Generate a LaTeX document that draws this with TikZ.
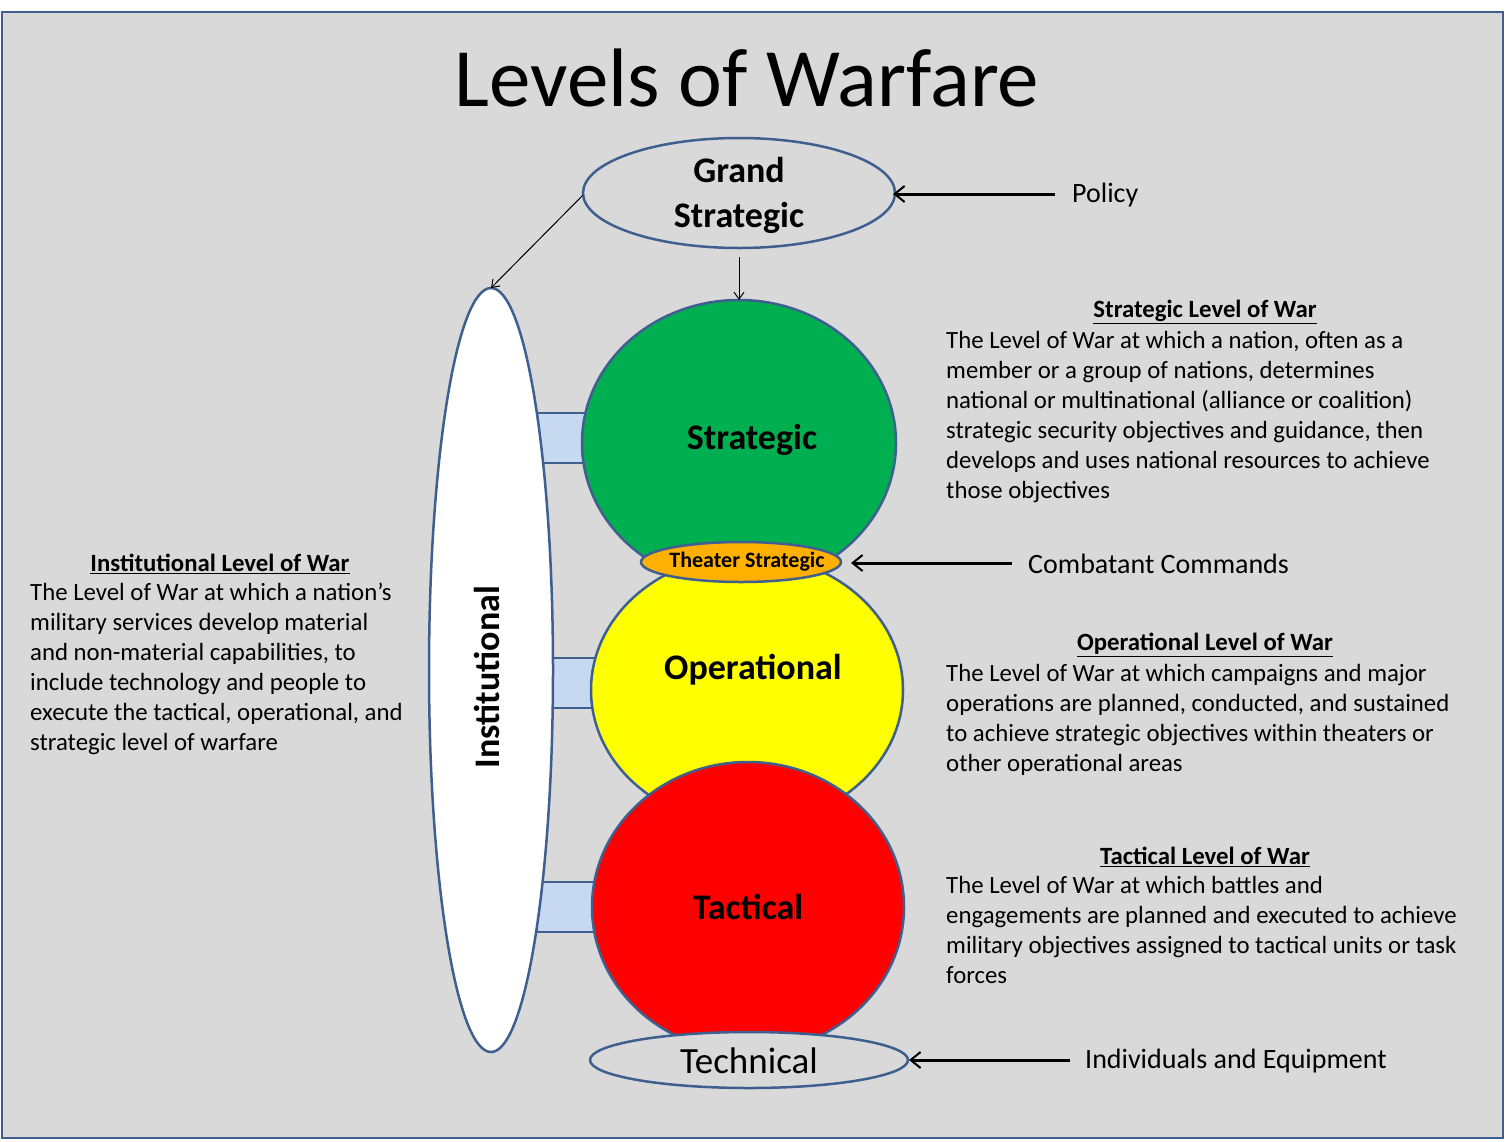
\documentclass[tikz,border=0pt]{standalone}
\usepackage{fontspec}
\setmainfont{Carlito}
\usetikzlibrary{arrows.meta}
\definecolor{bg}{HTML}{D9D9D9}
\definecolor{bd}{HTML}{3F5F8F}
\definecolor{lb}{HTML}{C6D9F1}
\definecolor{gr}{HTML}{00B050}
\definecolor{og}{HTML}{FFB000}
\definecolor{yl}{HTML}{FFFF00}
\begin{document}
\begin{tikzpicture}[x=1pt,y=-1pt,
  shp/.style={draw=bd,line width=2.5pt},
  big/.style={-{Straight Barb[length=10pt,width=16pt,line width=2pt]},line width=3pt},
  thin/.style={-{Straight Barb[length=7pt,width=10pt]},line width=1pt},
  body/.style={anchor=north west,align=left,inner sep=0pt,font=\fontsize{24.8}{30}\selectfont},
  head/.style={inner sep=0pt,font=\fontsize{24.8}{28}\selectfont\bfseries},
  lab/.style={anchor=west,inner sep=0pt,font=\fontsize{28}{32}\selectfont}]
\useasboundingbox (0,0) rectangle (1506,1141);
\fill[white] (0,0) rectangle (1506,1141);
\draw[fill=bg,draw=bd,line width=2.5pt] (2,12) rectangle (1503,1138);
\node (title) at (747,78) {\fontsize{83}{88}\selectfont Levels of Warfare};
% connectors
\draw[shp,line width=2pt,fill=lb] (537,413) rectangle (590,463);
\draw[shp,line width=2pt,fill=lb] (548,658) rectangle (598,708);
\draw[shp,line width=2pt,fill=lb] (537,882) rectangle (598,932);
% institutional
\draw[shp,fill=white] (491,670) ellipse [x radius=62,y radius=382];
\node[rotate=90,font=\fontsize{36}{38}\selectfont\bfseries] (inst) at (487,677) {Institutional};
\coordinate (insttop) at (491,288);
% circles
\draw[shp,fill=gr] (739,443) ellipse [x radius=157,y radius=143];
\node[font=\fontsize{36}{38}\selectfont\bfseries] (strat) at (752,440) {Strategic};
\draw[shp,fill=yl] (747,690) ellipse [x radius=156,y radius=135];
\node[font=\fontsize{36}{38}\selectfont\bfseries] (oper) at (753,670) {Operational};
\draw[shp,fill=red] (748,907) ellipse [x radius=156,y radius=145];
\node[font=\fontsize{36}{38}\selectfont\bfseries] (tac) at (748,907) {Tactical};
\draw[shp,fill=og] (741,562) ellipse [x radius=100,y radius=20];
\node[font=\fontsize{22}{24}\selectfont\bfseries] (theater) at (747,562) {Theater Strategic};
\draw[shp,fill=bg] (749,1060) ellipse [x radius=159,y radius=28];
\node[font=\fontsize{37}{40}\selectfont] (tech) at (749,1061) {Technical};
% grand strategic
\draw[shp,fill=bg] (739,193) ellipse [x radius=156,y radius=55];
\node[align=center,font=\fontsize{36}{45}\selectfont\bfseries] (grand) at (739,195) {Grand\\Strategic};
\coordinate (gsl) at (583,195);
\coordinate (gsb) at (739,257);
\coordinate (gtop) at (739,300);
\draw[thin] (gsl) -- (insttop);
\draw[thin] (gsb) -- (gtop);
% right arrows
\node[lab] (policy) at (1072,195) {Policy};
\coordinate (pa) at (1055,194); \coordinate (pb) at (893,194);
\draw[big] (pa) -- (pb);
\node[lab] (cc) at (1028,564) {Combatant Commands};
\coordinate (ca) at (1012,563); \coordinate (cb) at (851,563);
\draw[big] (ca) -- (cb);
\node[lab] (ind) at (1085,1061) {Individuals and Equipment};
\coordinate (ia) at (1070,1060); \coordinate (ib) at (909,1060);
\draw[big] (ia) -- (ib);
% text blocks
\node[head] (h1) at (1205,312) {\underline{Strategic Level of War}};
\node[body] (b1) at (946,331) {The Level of War at which a nation, often as a\\member or a group of nations, determines\\national or multinational (alliance or coalition)\\strategic security objectives and guidance, then\\develops and uses national resources to achieve\\those objectives};
\node[head] (h2) at (1205,645) {\underline{Operational Level of War}};
\node[body] (b2) at (946,664) {The Level of War at which campaigns and major\\operations are planned, conducted, and sustained\\to achieve strategic objectives within theaters or\\other operational areas};
\node[head] (h3) at (1205,857) {\underline{Tactical Level of War}};
\node[body] (b3) at (946,876) {The Level of War at which battles and\\engagements are planned and executed to achieve\\military objectives assigned to tactical units or task\\forces};
\node[head] (h4) at (220,564) {\underline{Institutional Level of War}};
\node[body] (b4) at (30,583) {The Level of War at which a nation’s\\military services develop material\\and non-material capabilities, to\\include technology and people to\\execute the tactical, operational, and\\strategic level of warfare};
\end{tikzpicture}
\end{document}
